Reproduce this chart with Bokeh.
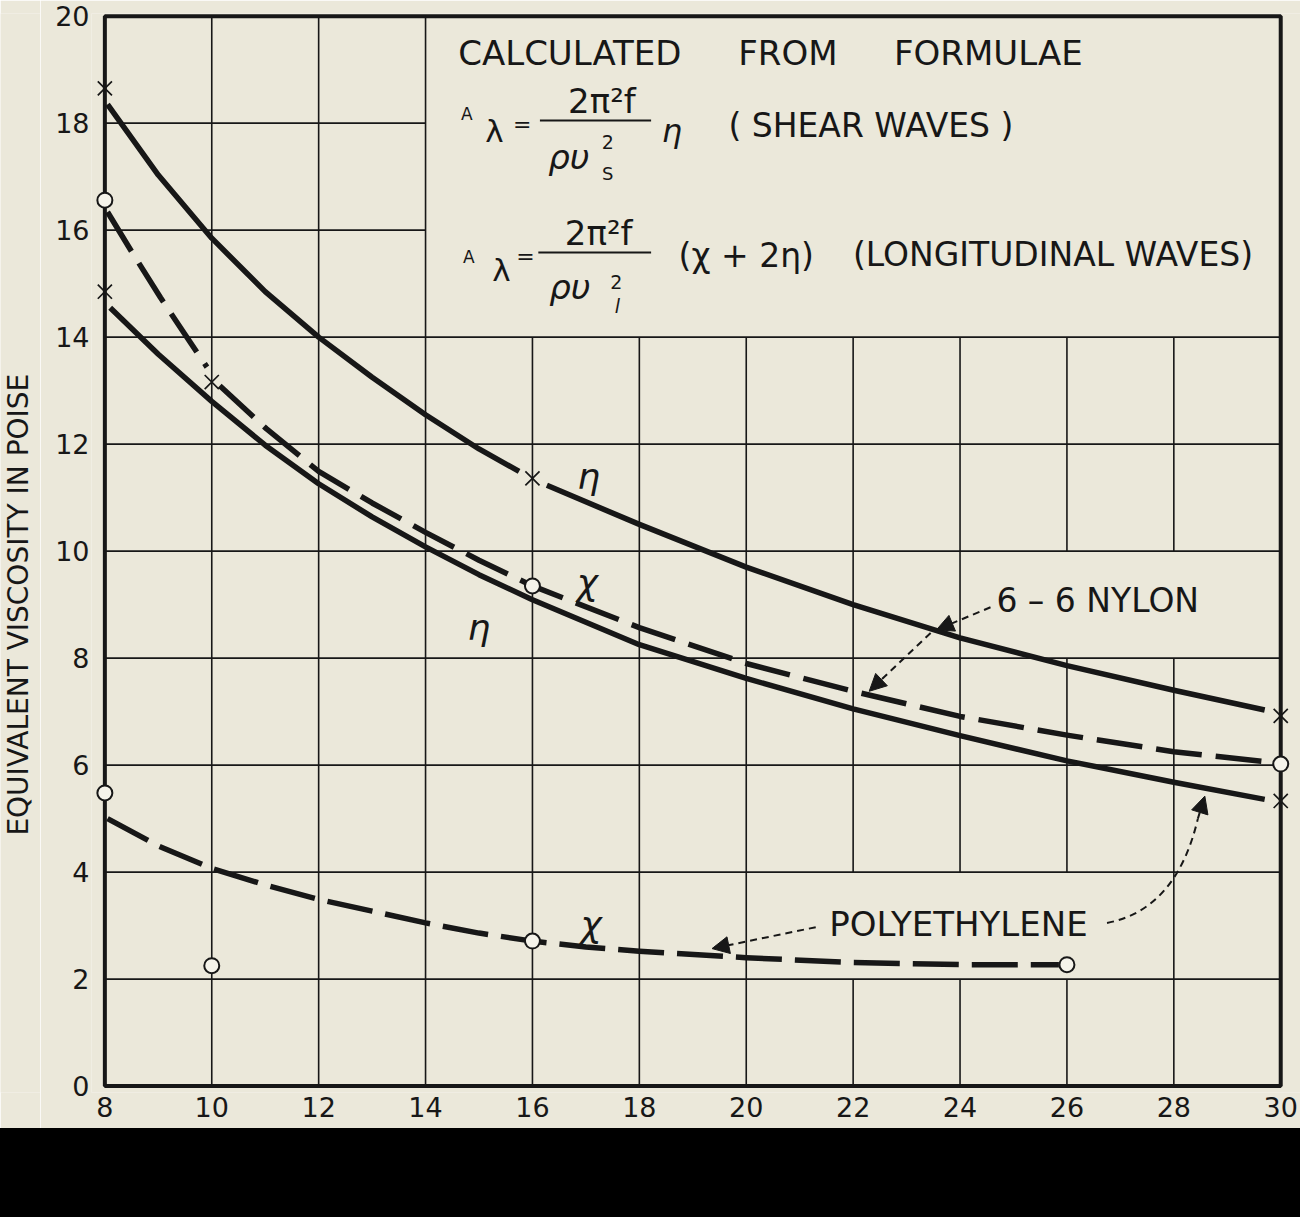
import math
from bokeh.plotting import figure
from bokeh.models import Range1d, Label, Arrow, NormalHead, FixedTicker, Div
from bokeh.layouts import column, row
from bokeh.embed import file_html
from bokeh.resources import INLINE

nan = float("nan")

# ---------------- data ----------------
x_ticks = [8, 10, 12, 14, 16, 18, 20, 22, 24, 26, 28, 30]
y_ticks = [0, 2, 4, 6, 8, 10, 12, 14, 16, 18, 20]
y_title = "EQUIVALENT VISCOSITY IN POISE"

# 6-6 nylon, shear viscosity eta (solid, top)
nylon_eta_x = [8.05, 9.0, 10.0, 11.0, 12.0, 13.0, 14.0, 15.0, 15.75, nan, 16.27, 18.0, 20.0, 22.0, 24.0, 26.0, 28.0, 29.7]
nylon_eta_y = [18.35, 17.03, 15.85, 14.85, 14.0, 13.25, 12.55, 11.91, 11.49, nan, 11.23, 10.5, 9.7, 9.0, 8.38, 7.86, 7.40, 7.03]
nylon_eta_pts_x = [8, 16, 30]
nylon_eta_pts_y = [18.65, 11.36, 6.92]

# 6-6 nylon, compressional viscosity chi (dashed)
nylon_chi_x = [8.05, 8.5, 9.04, 9.5, 9.91, nan, 10.15, 11.02, 12.0, 13.0, 14.0, 15.0, 16.0, 18.0, 20.0, 22.0, 24.0, 26.0, 28.0, 29.75]
nylon_chi_y = [16.34, 15.6, 14.74, 14.05, 13.44, nan, 13.09, 12.29, 11.49, 10.9, 10.35, 9.83, 9.35, 8.57, 7.9, 7.38, 6.91, 6.56, 6.25, 6.06]
nylon_chi_pts_x = [8, 16, 30]
nylon_chi_pts_y = [16.56, 9.35, 6.02]

# polyethylene, shear viscosity eta (solid, lower)
poly_eta_x = [8.1, 9.0, 10.0, 11.0, 12.0, 13.0, 14.0, 15.0, 16.0, 18.0, 20.0, 22.0, 24.0, 26.0, 28.0, 29.7]
poly_eta_y = [14.55, 13.68, 12.8, 11.98, 11.26, 10.64, 10.08, 9.56, 9.09, 8.25, 7.62, 7.05, 6.55, 6.08, 5.68, 5.36]
poly_eta_pts_x = [8, 10, 30]
poly_eta_pts_y = [14.85, 13.16, 5.33]

# polyethylene, compressional viscosity chi (dashed, bottom)
poly_chi_x = [8.05, 9.0, 10.0, 11.0, 12.0, 13.0, 14.0, 15.0, 16.0, 17.0, 18.0, 20.0, 22.0, 24.0, 25.85]
poly_chi_y = [5.0, 4.49, 4.07, 3.76, 3.49, 3.27, 3.05, 2.86, 2.71, 2.6, 2.52, 2.4, 2.31, 2.27, 2.27]
poly_chi_pts_x = [8, 10, 16, 26]
poly_chi_pts_y = [5.48, 2.25, 2.71, 2.27]

# rectangles of the ruled paper left without grid lines (text panels)
blank_panels = [(14, 30, 14, 20), (24, 30, 8, 10), (20, 28, 2, 4)]

# ---------------- styling ----------------
PAPER = "#ebe8da"
INK = "#171717"
FONT = "DejaVu Sans"
FIG_H = 1128

# narrow strip holding the vertical axis title
side = figure(width=40, height=FIG_H, x_range=Range1d(0, 40), y_range=Range1d(0, FIG_H),
              output_backend="svg", toolbar_location=None, min_border=0,
              x_axis_type=None, y_axis_type=None,
              background_fill_color=PAPER, border_fill_color=PAPER, outline_line_color=None)
side.add_layout(Label(x=18, y=FIG_H - 618, text=y_title, angle=math.pi / 2,
                      text_font=FONT, text_font_size="28px", text_color=INK,
                      text_align="center", text_baseline="middle"))

p = figure(width=1260, height=FIG_H,
           x_range=Range1d(7.75, 30.37), y_range=Range1d(-0.12, 20.05),
           output_backend="svg", toolbar_location=None,
           min_border_left=51, min_border_right=0, min_border_top=13, min_border_bottom=36,
           background_fill_color=PAPER, border_fill_color=PAPER, outline_line_color=None)
p.grid.visible = False
p.xaxis.ticker = FixedTicker(ticks=x_ticks)
p.yaxis.ticker = FixedTicker(ticks=y_ticks)
for ax in (p.xaxis[0], p.yaxis[0]):
    ax.axis_line_color = None
    ax.major_tick_line_color = None
    ax.minor_tick_line_color = None
    ax.major_tick_out = 0
    ax.major_tick_in = 0
    ax.major_label_text_font = FONT
    ax.major_label_text_font_size = "27px"
    ax.major_label_text_color = INK
p.xaxis[0].major_label_standoff = 4
p.yaxis[0].major_label_standoff = 2


def pieces(lo, hi, cuts):
    segs = [(lo, hi)]
    for a, b in cuts:
        new = []
        for s, e in segs:
            if b <= s or a >= e:
                new.append((s, e))
                continue
            if a > s:
                new.append((s, a))
            if b < e:
                new.append((b, e))
        segs = new
    return segs


gx0, gy0, gx1, gy1 = [], [], [], []
for gx in x_ticks[1:-1]:
    cuts = [(b, t) for (l, r, b, t) in blank_panels if l < gx < r]
    for s, e in pieces(y_ticks[0], y_ticks[-1], cuts):
        gx0.append(gx); gx1.append(gx); gy0.append(s); gy1.append(e)
for gy in y_ticks[1:-1]:
    cuts = [(l, r) for (l, r, b, t) in blank_panels if b < gy < t]
    for s, e in pieces(x_ticks[0], x_ticks[-1], cuts):
        gy0.append(gy); gy1.append(gy); gx0.append(s); gx1.append(e)
p.segment(x0=gx0, y0=gy0, x1=gx1, y1=gy1, line_color=INK, line_width=1.6)

# frame of the ruled area
p.quad(left=[x_ticks[0]], right=[x_ticks[-1]], bottom=[y_ticks[0]], top=[y_ticks[-1]],
       fill_color=None, line_color=INK, line_width=4)

# curves
p.line(nylon_eta_x, nylon_eta_y, line_color=INK, line_width=5.5, line_join="round")
p.line(poly_eta_x, poly_eta_y, line_color=INK, line_width=5.5, line_join="round")
p.line(nylon_chi_x, nylon_chi_y, line_color=INK, line_width=5.5, line_dash="46 14", line_join="round")
p.line(poly_chi_x, poly_chi_y, line_color=INK, line_width=5.5, line_dash="46 13", line_join="round")

# measured points
for xs, ys in ((nylon_eta_pts_x, nylon_eta_pts_y), (poly_eta_pts_x, poly_eta_pts_y)):
    p.scatter(xs, ys, marker="x", size=20, line_color=INK, line_width=1.7)
for xs, ys in ((nylon_chi_pts_x, nylon_chi_pts_y), (poly_chi_pts_x, poly_chi_pts_y)):
    p.scatter(xs, ys, marker="circle", size=15, fill_color="#f5f3ea", line_color=INK, line_width=2)


def txt(x, y, s, size, italic=False, align="left"):
    p.add_layout(Label(x=x, y=y, text=s, text_font=FONT, text_font_size=f"{size}px",
                       text_font_style="italic" if italic else "normal",
                       text_color=INK, text_align=align, text_baseline="middle"))


# curve labels
txt(17.05, 11.40, "η", 36, italic=True, align="center")
txt(17.03, 9.42, "χ", 36, italic=True, align="center")
txt(15.00, 8.58, "η", 36, italic=True, align="center")
txt(17.10, 3.02, "χ", 36, italic=True, align="center")

# material labels
txt(24.68, 9.08, "6 – 6 NYLON", 33)
txt(23.97, 3.03, "POLYETHYLENE", 34, align="center")

# formula panel
txt(16.70, 19.31, "CALCULATED", 34, align="center")
txt(20.78, 19.31, "FROM", 34, align="center")
txt(24.53, 19.31, "FORMULAE", 34, align="center")

txt(14.77, 18.18, "A", 17, align="center")
txt(15.29, 17.86, "λ", 31, align="center")
txt(15.81, 17.97, "=", 22, align="center")
txt(17.30, 18.42, "2π²f", 34, align="center")
txt(16.68, 17.36, "ρυ", 34, italic=True, align="center")
txt(17.41, 17.64, "2", 19, align="center")
txt(17.41, 17.06, "S", 18, align="center")
txt(18.61, 17.86, "η", 32, italic=True, align="center")
txt(22.43, 17.96, "( SHEAR  WAVES )", 33, align="center")

txt(14.81, 15.50, "A", 17, align="center")
txt(15.42, 15.26, "λ", 31, align="center")
txt(15.87, 15.50, "=", 22, align="center")
txt(17.24, 15.95, "2π²f", 34, align="center")
txt(16.70, 14.93, "ρυ", 34, italic=True, align="center")
txt(17.57, 15.04, "2", 19, align="center")
txt(17.59, 14.59, "l", 19, italic=True, align="center")
txt(20.0, 15.52, "(χ + 2η)", 33, align="center")
txt(25.74, 15.54, "(LONGITUDINAL WAVES)", 33, align="center")

# fraction bars
p.segment(x0=[16.14, 16.11], y0=[18.05, 15.58], x1=[18.22, 18.22], y1=[18.05, 15.58],
          line_color=INK, line_width=2)


# pointer arrows
def arrow(x0, y0, x1, y1):
    p.add_layout(Arrow(end=NormalHead(size=17, fill_color=INK, line_color=INK, line_width=1),
                       x_start=x0, y_start=y0, x_end=x1, y_end=y1,
                       line_color=INK, line_width=2, line_dash="7 5"))


arrow(24.57, 8.95, 23.56, 8.53)
arrow(23.45, 8.47, 22.30, 7.38)
arrow(21.30, 2.97, 19.36, 2.57)
p.quadratic(x0=[26.75], y0=[3.05], x1=[28.45], y1=[5.0], cx=[28.05], cy=[3.30],
            line_color=INK, line_width=2, line_dash="7 5")
arrow(28.45, 5.0, 28.58, 5.42)

band = Div(width=1300, height=89, styles={"background-color": "#000000"}, margin=(0, 0, 0, 0))
layout = column(row(side, p, spacing=0), band, spacing=0)

open("out.html", "w").write(file_html(layout, INLINE))
